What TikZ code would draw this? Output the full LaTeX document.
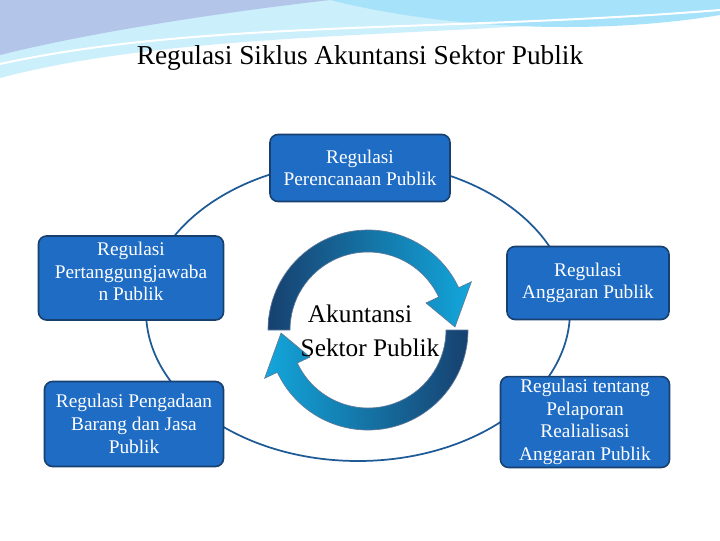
\documentclass[tikz,border=0pt]{standalone}
\usepackage{fontspec}
\setmainfont{Liberation Serif}
\begin{document}
\begin{tikzpicture}[x=0.75pt,y=-0.75pt]
\definecolor{boxblue}{HTML}{1F6CC4}
\definecolor{boxline}{HTML}{17406F}
\definecolor{ringline}{HTML}{1E5A96}
\tikzset{rbox/.style={draw=boxline,line width=1.2pt,fill=boxblue,rounded corners=6pt,text=white,font=\fontsize{14.5}{17}\selectfont,align=center,inner sep=2pt}}
\useasboundingbox (0,0) rectangle (720,540);
\fill[white] (0,0) rectangle (720,540);
% top swoosh decoration
\fill[cyan!20] (0,0) -- (720,0) -- (720,8) .. controls (500,40) and (200,25) .. (0,78) -- cycle;
\fill[cyan!50!blue!30] (0,0) -- (330,0) .. controls (200,15) and (80,35) .. (0,55) -- cycle;
\fill[cyan!35] (330,0) .. controls (450,30) and (600,35) .. (720,15) -- (720,0) -- cycle;
\draw[white,line width=1.5pt] (0,64) .. controls (200,20) and (450,32) .. (720,10);
\node[font=\fontsize{20.5}{24}\selectfont] (title) at (360,58) {Regulasi Siklus Akuntansi Sektor Publik};
% ellipse
\draw[ringline,line width=1.3pt] (358,311) ellipse [x radius=212, y radius=150];
% boxes
\node[rbox,minimum width=180*0.75pt,minimum height=67*0.75pt] (top) at (360,168) {Regulasi\\Perencanaan Publik};
\node[rbox,minimum width=162*0.75pt,minimum height=73*0.75pt] (r1) at (588,283) {Regulasi\\Anggaran Publik};
\node[rbox,minimum width=169*0.75pt,minimum height=90*0.75pt] (r2) at (585,422) {Regulasi tentang\\Pelaporan\\Realialisasi\\Anggaran Publik};
\node[rbox,minimum width=185*0.75pt,minimum height=84*0.75pt] (l1) at (131,278) {Regulasi\\Pertanggungjawaba\\n Publik\\[-7pt]\mbox{}};
\node[rbox,minimum width=179*0.75pt,minimum height=85*0.75pt] (l2) at (134,424) {Regulasi Pengadaan\\Barang dan Jasa\\Publik};
% circular arrows
\begin{scope}[shift={(368,330)}]
\shade[left color=boxline,right color=boxblue!60!cyan,draw=boxline!70,line width=0.5pt]
 (180:100) arc[start angle=180,end angle=335,radius=100] -- (335:114) -- (358:87) -- (335:64) -- (335:78) arc[start angle=335,end angle=180,radius=78] -- cycle;
\shade[right color=boxline,left color=boxblue!60!cyan,draw=boxline!70,line width=0.5pt]
 (0:100) arc[start angle=0,end angle=155,radius=100] -- (155:114) -- (178:87) -- (155:64) -- (155:78) arc[start angle=155,end angle=0,radius=78] -- cycle;
\end{scope}
\node[font=\fontsize{19}{22}\selectfont] (ak) at (360,314) {Akuntansi};
\node[font=\fontsize{19}{22}\selectfont] (sp) at (370,348) {Sektor Publik};
\end{tikzpicture}
\end{document}
